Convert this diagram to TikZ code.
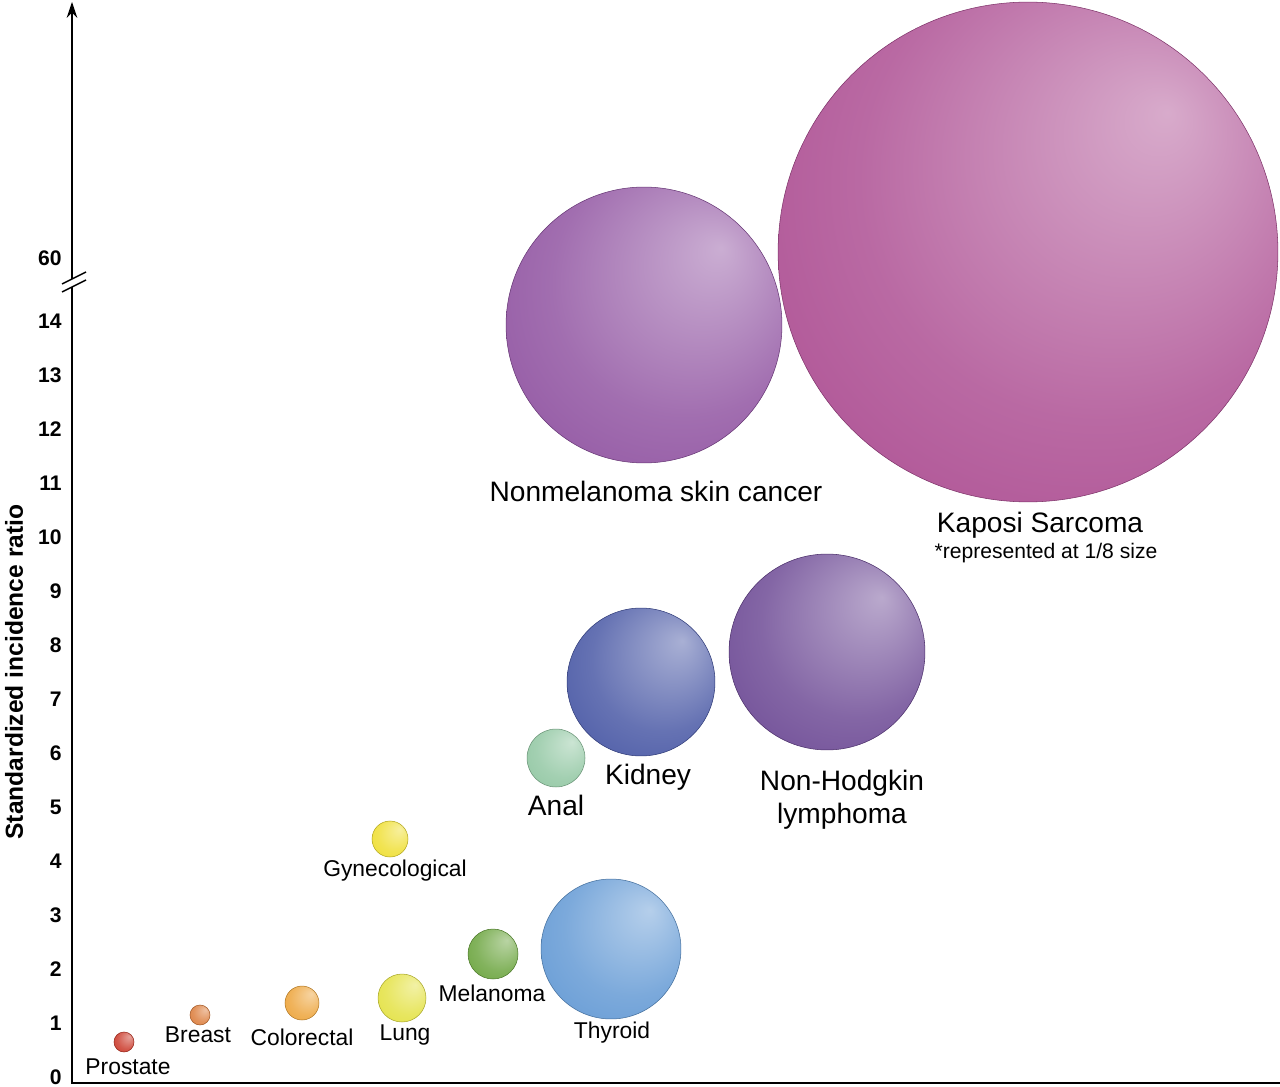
\documentclass[tikz,border=0pt]{standalone}
\usepackage{fontspec}
\setmainfont{Liberation Sans}
\usetikzlibrary{arrows.meta}
\definecolor{ckap}{HTML}{A8448C}
\definecolor{cnm}{HTML}{8A4A9C}
\definecolor{cnhl}{HTML}{65408F}
\definecolor{ckid}{HTML}{3F4FA0}
\definecolor{canal}{HTML}{8CC49E}
\definecolor{cthy}{HTML}{5B94D2}
\definecolor{cmel}{HTML}{64A035}
\definecolor{cgyn}{HTML}{EEDD28}
\definecolor{clung}{HTML}{E2E03A}
\definecolor{ccol}{HTML}{ECA032}
\definecolor{cbre}{HTML}{DA7733}
\definecolor{cpro}{HTML}{C83020}
\pgfdeclareradialshading[bc]{myball}{\pgfpoint{14bp}{14bp}}{color(0bp)=(bc!45!white); color(24bp)=(bc!80!white); color(46bp)=(bc); color(50bp)=(bc)}
\tikzset{
  ball/.style 2 args={circle, inner sep=0pt, minimum size=#2*0.04cm, /utils/exec=\colorlet{bc}{#1}, shading=myball, draw=#1!75!black, line width=0.3pt},
  lab/.style={font=\fontsize{13}{14}\selectfont, inner sep=0pt, align=center},
  biglab/.style={font=\fontsize{16}{19}\selectfont, inner sep=0pt, align=center},
  tick/.style={font=\bfseries\fontsize{12}{14}\selectfont, inner sep=0pt}
}
\begin{document}
\begin{tikzpicture}[x=0.02cm,y=-0.02cm]
\useasboundingbox (0,0) rectangle (1280,1087);
\coordinate (o) at (72,1083);
\coordinate (xe) at (1280,1083);
\coordinate (b1) at (72,287);
\coordinate (b2) at (72,279);
\coordinate (top) at (72,2);
\draw[line width=0.8pt] (xe) -- (o) -- (b1);
\draw[line width=0.8pt,-{Stealth[length=9pt,width=6pt]}] (b2) -- (top);
\draw[line width=0.8pt] (62,292) -- (86,280);
\draw[line width=0.8pt] (62,284) -- (86,272);
\foreach \v in {0,...,14}{
  \node[tick,anchor=east] (t\v) at (62,{1077-54*\v}) {\v};
}
\node[tick,anchor=east] (t60) at (62,258) {60};
\node[rotate=90,font=\bfseries\fontsize{14}{16}\selectfont] (yl) at (14,672) {Standardized incidence ratio};
\node[ball={ckap}{250}] (kap) at (1028,252) {};
\node[ball={cnm}{138}] (nmsc) at (644,325) {};
\node[ball={cnhl}{98}] (nhl) at (827,652) {};
\node[ball={ckid}{74}] (kid) at (641,682) {};
\node[ball={canal}{29}] (anal) at (556,758) {};
\node[ball={cthy}{70}] (thy) at (611,949) {};
\node[ball={cmel}{25}] (mel) at (493,954) {};
\node[ball={cgyn}{18}] (gyn) at (390,839) {};
\node[ball={clung}{24}] (lung) at (402,998) {};
\node[ball={ccol}{17}] (col) at (302,1003) {};
\node[ball={cbre}{10}] (bre) at (200,1015) {};
\node[ball={cpro}{10}] (pro) at (124,1042) {};
\node[biglab] (lnmsc) at (656,491) {Nonmelanoma skin cancer};
\node[biglab] (lkap) at (1040,525) {Kaposi Sarcoma};
\node[lab,font=\fontsize{12}{13}\selectfont] (lkap2) at (1046,553) {*represented at 1/8 size};
\node[biglab] (lnhl) at (842,800) {Non-Hodgkin\\lymphoma};
\node[biglab] (lkid) at (648,777) {Kidney};
\node[biglab] (lanal) at (556,805) {Anal};
\node[lab] (lgyn) at (395,871) {Gynecological};
\node[lab] (lmel) at (492,993) {Melanoma};
\node[lab] (lthy) at (612,1033) {Thyroid};
\node[lab] (llung) at (405,1035) {Lung};
\node[lab] (lcol) at (302,1037) {Colorectal};
\node[lab] (lbre) at (198,1035) {Breast};
\node[lab] (lpro) at (128,1067) {Prostate};
\end{tikzpicture}
\end{document}
